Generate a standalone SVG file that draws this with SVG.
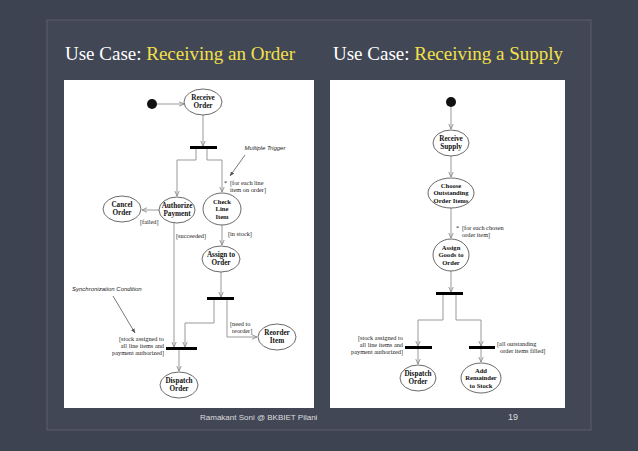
<svg xmlns="http://www.w3.org/2000/svg" width="638" height="451" viewBox="0 0 638 451">
<style>
.n{fill:#fff;stroke:#444;stroke-width:0.8}
.t{font-family:"Liberation Serif",serif;font-size:7.2px;font-weight:bold;text-anchor:middle;fill:#111}
.s{font-size:6.6px}
.g{font-family:"Liberation Serif",serif;font-size:6.3px;fill:#222}
.i{font-family:"Liberation Sans",sans-serif;font-size:6px;font-style:italic;fill:#222}
.c path,.c line{fill:none;stroke:#999;stroke-width:1}
.bar{fill:#000}
.h{font-family:"Liberation Serif",serif;font-size:19px;fill:#fff}
</style>
<defs><marker id="a" viewBox="0 0 10 10" refX="9" refY="5" markerWidth="6" markerHeight="6" orient="auto"><path d="M0,1 L9,5 L0,9" fill="none" stroke="#888" stroke-width="1.4"/></marker>
<marker id="b" viewBox="0 0 10 10" refX="9" refY="5" markerWidth="6" markerHeight="6" orient="auto"><path d="M0,1 L9,5 L0,9 z" fill="#555"/></marker></defs>
<rect width="638" height="451" fill="#3e4351"/>
<rect x="47" y="20" width="544" height="410" fill="#424756" stroke="#5a5f6c" stroke-width="1"/>
<text x="65" y="60" class="h">Use Case: <tspan fill="#f3e04a">Receiving an Order</tspan></text>
<text x="333" y="60" class="h">Use Case: <tspan fill="#f3e04a">Receiving a Supply</tspan></text>
<rect x="64" y="80" width="250" height="328" fill="#fff"/>
<rect x="330" y="80" width="235" height="328" fill="#fff"/>
<text x="200" y="420" font-family="Liberation Sans,sans-serif" font-size="8" fill="#ddd">Ramakant Soni @ BKBIET Pilani</text>
<text x="508" y="420" font-family="Liberation Sans,sans-serif" font-size="9" fill="#ddd">19</text>

<g class="c" marker-end="url(#a)">
<line x1="157" y1="104" x2="184" y2="104"/>
<line x1="203" y1="115" x2="203" y2="146"/>
<path d="M196,148 V160 H177 V196"/>
<path d="M207,148 V160 H222 V192"/>
<line x1="159" y1="210" x2="142" y2="210"/>
<line x1="222" y1="225" x2="222" y2="245"/>
<line x1="174" y1="223" x2="174" y2="347"/>
<line x1="221" y1="272" x2="221" y2="297"/>
<path d="M214,299 V323 H185 V347"/>
<path d="M227,299 V337 H257"/>
<line x1="179" y1="350" x2="179" y2="371"/>
<line x1="451" y1="107" x2="451" y2="129"/>
<line x1="451" y1="156" x2="451" y2="177"/>
<line x1="451" y1="208" x2="451" y2="238"/>
<line x1="451" y1="271" x2="451" y2="292"/>
<path d="M443,294 V320 H418 V346"/>
<path d="M456,294 V320 H481 V346"/>
<line x1="418" y1="349" x2="418" y2="364"/>
<line x1="481" y1="349" x2="481" y2="362"/>
</g>
<g stroke="#555" stroke-width="0.8" marker-end="url(#b)">
<line x1="245" y1="155" x2="230" y2="176"/>
<line x1="113" y1="296" x2="135" y2="333"/>
</g>

<g id="start1"><circle cx="152" cy="104" r="5" fill="#111"/></g>
<g id="receiveOrder"><ellipse class="n" cx="203" cy="102" rx="19" ry="13"/><text class="t" x="203" y="100">Receive</text><text class="t" x="203" y="108">Order</text></g>
<rect class="bar" x="190" y="146" width="27" height="3"/>
<g id="authorize"><ellipse class="n" cx="177" cy="210" rx="18" ry="13"/><text class="t" x="177" y="208">Authorize</text><text class="t" x="177" y="216">Payment</text></g>
<g id="check"><ellipse class="n" cx="222" cy="209" rx="19" ry="16"/><text class="t s" x="222" y="203.5">Check</text><text class="t s" x="222" y="211">Line</text><text class="t s" x="222" y="218.5">Item</text></g>
<g id="cancel"><ellipse class="n" cx="122" cy="209" rx="19" ry="13"/><text class="t" x="122" y="207">Cancel</text><text class="t" x="122" y="215">Order</text></g>
<g id="assign"><ellipse class="n" cx="221" cy="259" rx="19" ry="13"/><text class="t" x="221" y="257">Assign to</text><text class="t" x="221" y="265">Order</text></g>
<rect class="bar" x="207" y="297" width="27" height="3"/>
<g id="reorder"><ellipse class="n" cx="277" cy="337" rx="19" ry="13"/><text class="t" x="277" y="335">Reorder</text><text class="t" x="277" y="343">Item</text></g>
<rect class="bar" x="166" y="347" width="31" height="3"/>
<g id="dispatch1"><ellipse class="n" cx="179" cy="385" rx="19" ry="13"/><text class="t" x="179" y="383">Dispatch</text><text class="t" x="179" y="391">Order</text></g>

<text class="i" x="265" y="150" text-anchor="middle">Multiple Trigger</text>
<text class="g" x="224" y="185">* <tspan x="230">[for each line</tspan></text>
<text class="g" x="230" y="192">item on order]</text>
<text class="g" x="140" y="224">[failed]</text>
<text class="g" x="176" y="238">[succeeded]</text>
<text class="g" x="228" y="236">[in stock]</text>
<text class="i" x="72" y="291">Synchronization Condition</text>
<text class="g" x="230" y="326">[need to</text>
<text class="g" x="232" y="333">reorder]</text>
<text class="g" x="164" y="341" text-anchor="end">[stock assigned to</text>
<text class="g" x="164" y="348" text-anchor="end">all line items and</text>
<text class="g" x="164" y="355" text-anchor="end">payment authorized]</text>

<g id="start2"><circle cx="451" cy="102" r="5" fill="#111"/></g>
<g id="receiveSupply"><ellipse class="n" cx="451" cy="143" rx="18" ry="13"/><text class="t" x="451" y="141">Receive</text><text class="t" x="451" y="149">Supply</text></g>
<g id="choose"><ellipse class="n" cx="451" cy="193" rx="23" ry="15"/><text class="t s" x="451" y="187.5">Choose</text><text class="t s" x="451" y="195">Outstanding</text><text class="t s" x="451" y="202.5">Order Items</text></g>
<g id="assignGoods"><ellipse class="n" cx="451" cy="255" rx="18" ry="16"/><text class="t s" x="451" y="249.5">Assign</text><text class="t s" x="451" y="257">Goods to</text><text class="t s" x="451" y="264.5">Order</text></g>
<rect class="bar" x="436" y="292" width="27" height="3"/>
<rect class="bar" x="405" y="346" width="27" height="3"/>
<rect class="bar" x="469" y="346" width="26" height="3"/>
<g id="dispatch2"><ellipse class="n" cx="418" cy="378" rx="18" ry="13"/><text class="t" x="418" y="376">Dispatch</text><text class="t" x="418" y="384">Order</text></g>
<g id="addRemainder"><ellipse class="n" cx="481" cy="378" rx="20" ry="15"/><text class="t s" x="481" y="372.5">Add</text><text class="t s" x="481" y="380">Remainder</text><text class="t s" x="481" y="387.5">to Stock</text></g>
<text class="g" x="456" y="230">* <tspan x="462">[for each chosen</tspan></text>
<text class="g" x="462" y="237">order item]</text>
<text class="g" x="403" y="340" text-anchor="end">[stock assigned to</text>
<text class="g" x="403" y="347" text-anchor="end">all line items and</text>
<text class="g" x="403" y="354" text-anchor="end">payment authorized]</text>
<text class="g" x="497" y="346">[all outstanding</text>
<text class="g" x="500" y="353">order items filled]</text>
</svg>
